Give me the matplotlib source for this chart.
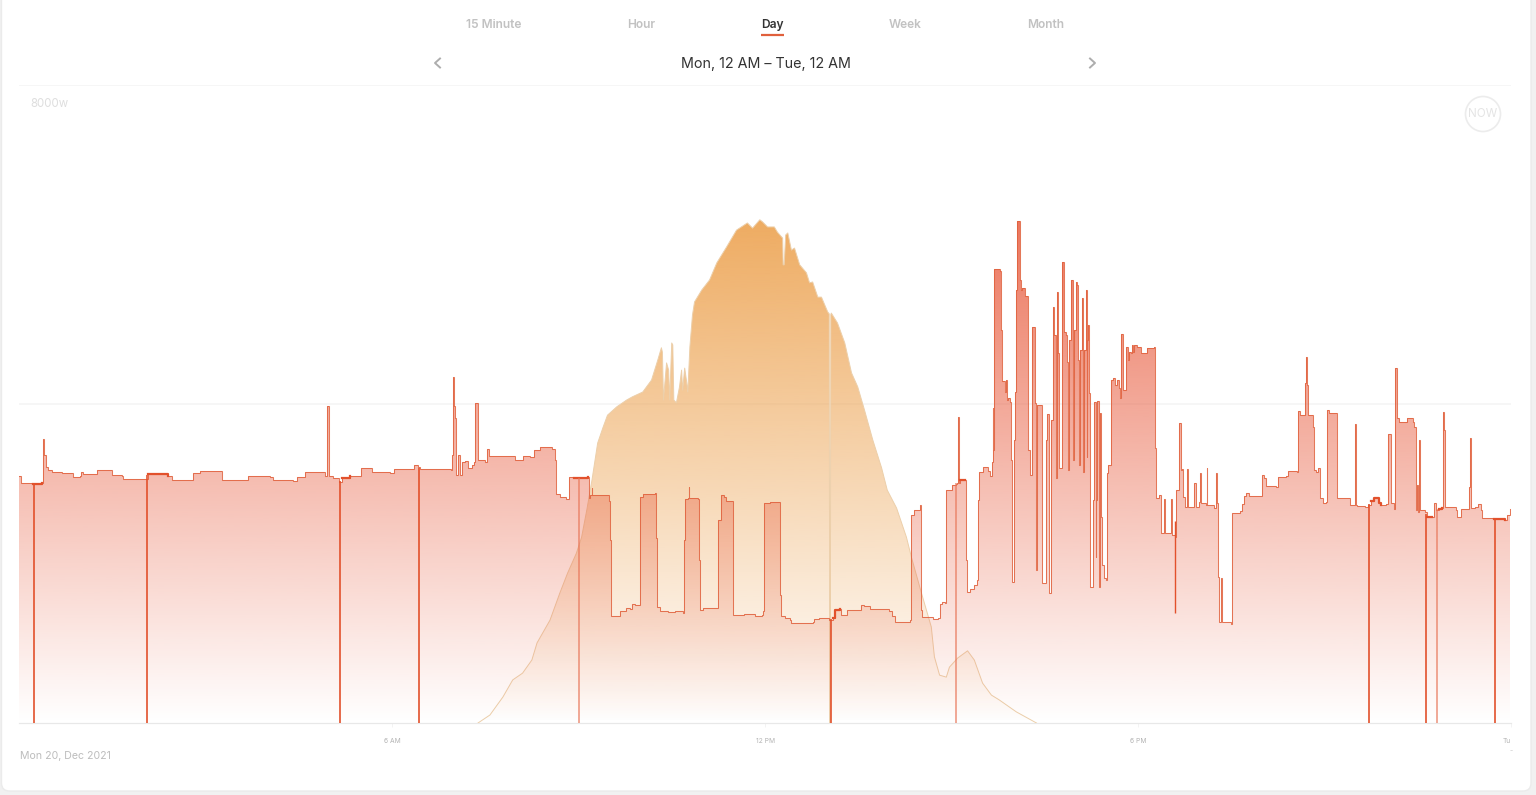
import numpy as np
import matplotlib
matplotlib.use("Agg")
import matplotlib.pyplot as plt
from matplotlib.patches import Polygon, FancyBboxPatch, Circle

plt.rcParams['font.family'] = ['Inter', 'DejaVu Sans']

PERIODS = ["15 Minute", "Hour", "Day", "Week", "Month"]
RANGE_LABEL = "Mon, 12 AM – Tue, 12 AM"
DATE_LABEL = "Mon 20, Dec 2021"
Y_TICKS = [4000, 8000]
X_TICKS = [360, 720, 1080, 1440]
X_LABELS = ["6 AM", "12 PM", "6 PM", "Tu"]

USAGE_MIN = [
    0, 2, 13.5, 22, 23, 24, 26, 28, 32, 41.5,
    51, 52, 59, 60, 62, 72, 75, 88, 90, 99,
    100, 122.5, 124.5, 144, 147.5, 165, 168, 174.5, 192, 196,
    218, 221, 242, 245, 264, 268, 276, 290, 295, 296,
    297, 298, 299, 303, 308.5, 311.5, 319, 327, 330, 337,
    340.5, 358, 362, 375, 381, 385, 387, 417, 418, 419,
    419.5, 420.5, 421.5, 423.5, 425.5, 428, 430, 433, 437, 439,
    440, 442, 443, 449.5, 451.5, 453.5, 475.5, 478.5, 484, 486,
    493, 497, 502.5, 514, 517, 518, 522, 527.5, 530.5, 531,
    536, 541, 549, 550, 551, 553, 553.5, 564, 569, 570,
    571, 575, 580, 585.5, 589.5, 591.5, 595, 599, 599.5, 602,
    613.5, 614.5, 615.5, 618.5, 626, 633, 640.5, 641.5, 642.5, 645.5,
    646.5, 647, 655, 656, 657, 660, 673.5, 674.5, 675, 678,
    680, 682, 688, 689, 692.5, 700, 710, 717, 718.5, 719.5,
    724.5, 733, 734, 735, 739, 744, 745, 758, 766, 767,
    772.5, 777.5, 782, 786, 788, 792, 793, 798, 799, 808,
    813, 816, 821, 840, 843, 845, 857.5, 859.5, 860.5, 863.5,
    870, 870.5, 871, 872, 882.5, 886.5, 888.5, 891, 894, 894.5,
    895, 900, 904, 905, 906, 906.5, 907, 908, 913.5, 914,
    914.5, 917.5, 922, 925, 926, 926.5, 930, 935, 937.5, 939.5,
    940, 940.5, 941.5, 947, 947.5, 949, 951, 952, 953, 954,
    955, 956, 957, 958, 959, 960, 961, 962, 962.5, 963.5,
    965.5, 966.5, 967.5, 968.5, 971, 973.5, 974, 976, 977, 978,
    980, 980.5, 981, 982, 983, 986, 987, 990.5, 991.5, 992.5,
    993.5, 994.5, 995.5, 996, 997.5, 998.5, 1000.5, 1001, 1001.5, 1002.5,
    1003, 1004, 1006, 1006.5, 1007, 1008, 1009, 1010.5, 1011, 1012,
    1012.5, 1013, 1015, 1016, 1017, 1017.5, 1018, 1020, 1021.5, 1022.5,
    1023.5, 1024.5, 1025.5, 1026.5, 1027.5, 1029.5, 1030, 1030.5, 1031, 1032,
    1033, 1034, 1036, 1037, 1037.5, 1038.5, 1039, 1039.5, 1040.5, 1041.5,
    1042.5, 1043, 1043.5, 1044.5, 1045.5, 1047.5, 1049.5, 1050, 1051.5, 1053.5,
    1055.5, 1057.5, 1059.5, 1062, 1063, 1064, 1065, 1066, 1068, 1070,
    1071, 1073, 1074, 1075.5, 1076.5, 1079.5, 1083, 1086, 1089, 1095,
    1096, 1097.5, 1100.5, 1102.5, 1104.5, 1105.5, 1106.5, 1111, 1112, 1113,
    1115.5, 1117, 1120, 1121, 1121.5, 1122, 1123, 1125.5, 1127.5, 1128.5,
    1133.5, 1134.5, 1135.5, 1139, 1140, 1141, 1146, 1146.5, 1147, 1153.5,
    1155.5, 1156.5, 1157.5, 1158.5, 1159.5, 1160.5, 1161.5, 1168, 1170, 1170.5,
    1171, 1178, 1180, 1182.5, 1184.5, 1187.5, 1199, 1200, 1202, 1204,
    1213.5, 1215.5, 1223, 1225, 1233.5, 1234.5, 1236.5, 1240.5, 1241.5, 1242.5,
    1243.5, 1244, 1247, 1249, 1250, 1252, 1254, 1256, 1259, 1261,
    1262, 1264.5, 1271.5, 1272.5, 1282, 1285, 1288, 1289, 1290, 1291.5,
    1299.5, 1302, 1305, 1308, 1313, 1315, 1319.5, 1321.5, 1322.5, 1324.5,
    1327.5, 1328.5, 1329.5, 1330, 1332, 1340, 1345, 1346.5, 1348.5, 1349.5,
    1350.5, 1351.5, 1352.5, 1357, 1359, 1364, 1366, 1367.5, 1370.5, 1373.5,
    1374.5, 1375.5, 1376.5, 1387, 1388, 1391, 1392, 1398, 1399, 1400,
    1401, 1405, 1408.5, 1411, 1412, 1424, 1434, 1436.5, 1439,
]
USAGE_W = [
    3100, 3010, 3000, 3010, 3560, 3360, 3210, 3170, 3150, 3135,
    3135, 3085, 3100, 3150, 3120, 3120, 3170, 3170, 3110, 3100,
    3060, 3060, 3120, 3100, 3050, 3050, 3135, 3160, 3160, 3050,
    3050, 3100, 3085, 3050, 3035, 3085, 3150, 3150, 3100, 3100,
    3975, 3975, 3100, 3070, 3020, 3070, 3100, 3100, 3200, 3200,
    3150, 3135, 3185, 3185, 3235, 3210, 3185, 3170, 3360, 4340,
    3975, 3825, 3110, 3360, 3110, 3275, 3285, 3200, 3235, 3275,
    4015, 4015, 3300, 3275, 3435, 3350, 3350, 3300, 3300, 3350,
    3335, 3425, 3460, 3435, 3300, 2870, 2835, 2810, 2820, 3085,
    3070, 3070, 3085, 2820, 2860, 2945, 2860, 2860, 2785, 2295,
    1340, 1340, 1405, 1440, 1430, 1490, 1480, 1490, 2835, 2870,
    2885, 2320, 1455, 1405, 1390, 1405, 1380, 2295, 2810, 2820,
    2960, 2820, 2810, 2045, 1415, 1440, 1440, 1605, 2545, 2860,
    2835, 2785, 2785, 1355, 1355, 1365, 1340, 1355, 1405, 2760,
    2770, 2770, 1605, 1340, 1315, 1290, 1255, 1255, 1265, 1305,
    1315, 1315, 1290, 1315, 1415, 1430, 1355, 1355, 1415, 1415,
    1480, 1465, 1430, 1405, 1340, 1265, 1265, 1290, 2610, 2670,
    2735, 2045, 1415, 1330, 1305, 1315, 1490, 1515, 1505, 2230,
    2920, 2985, 3000, 3010, 3010, 3835, 3010, 3045, 3045, 2045,
    1645, 1680, 1730, 1795, 2795, 3150, 3210, 3160, 3095, 3275,
    3950, 3425, 5695, 5670, 4930, 4290, 4290, 4150, 4300, 4050,
    4075, 4025, 3300, 1770, 1770, 3550, 4150, 5430, 5430, 6295,
    6295, 5555, 5430, 5455, 5355, 5355, 3425, 3110, 3110, 4965,
    4965, 4015, 4015, 1920, 3990, 3990, 1755, 1755, 3550, 3875,
    3875, 1630, 1630, 3800, 5215, 4865, 4865, 3070, 5405, 5405,
    4640, 3200, 3200, 3800, 5780, 5780, 4905, 4865, 4525, 4525,
    3175, 4805, 5555, 5555, 5030, 3300, 4930, 5530, 5495, 4550,
    3235, 4675, 5330, 3150, 4675, 4675, 5430, 3335, 4805, 4990,
    4140, 1705, 1705, 2795, 4025, 4025, 2080, 2795, 4040, 4040,
    1705, 3885, 3885, 2585, 1980, 1820, 1795, 3135, 3235, 4300,
    4325, 4240, 4300, 4200, 4075, 4880, 4880, 4175, 4715, 4550,
    4650, 4640, 4740, 4650, 4740, 4715, 4640, 4640, 4705, 4715,
    3450, 2820, 2860, 2385, 2385, 2810, 2385, 2385, 2810, 2360,
    2330, 2920, 3760, 3760, 3175, 3185, 2835, 2710, 3185, 2710,
    2710, 3010, 2710, 2770, 3135, 2760, 2735, 3200, 2735, 2695,
    3135, 2760, 1830, 1265, 1265, 1820, 1265, 1265, 1240, 2330,
    2635, 2660, 2745, 2845, 2885, 2845, 2845, 3110, 3070, 2970,
    2960, 3085, 3095, 3160, 3150, 3910, 3860, 3860, 4265, 4590,
    4240, 3860, 3860, 3710, 3175, 3150, 3200, 2820, 2760, 2770,
    3925, 3885, 3885, 2820, 2820, 2735, 2735, 3750, 2735, 2720,
    2710, 2735, 2785, 2820, 2760, 2735, 2745, 3625, 3625, 2760,
    2685, 4450, 4450, 3825, 3775, 3825, 3775, 3710, 2670, 2985,
    2645, 3550, 2670, 2645, 2585, 2585, 2760, 2670, 2685, 2695,
    3900, 3675, 2710, 2670, 2585, 2585, 2685, 2685, 2960, 3575,
    2695, 2710, 2745, 2670, 2570, 2560, 2545, 2610, 2685,
]

SOLAR_MIN = [
    443, 454.5, 467, 476.5, 486, 495, 500, 512.5, 522, 529.5,
    538, 543, 548, 553, 558.5, 563.5, 568, 577, 586.5, 592,
    602, 610.5, 616.5, 620, 621, 622, 625, 627, 628, 630,
    631, 632, 634.5, 637.5, 639.5, 640.5, 642.5, 644.5, 645.5, 647.5,
    650, 652, 659, 666.5, 673.5, 683, 692.5, 703, 708, 715,
    717.5, 722.5, 729, 732, 737, 737.5, 738.5, 740, 742, 745.5,
    748.5, 753.5, 760, 763, 766, 771, 774.5, 780.5, 782, 782.5,
    783, 783.5, 784, 790, 797, 803.5, 809.5, 816, 824, 832.5,
    838, 847, 856.5, 861.5, 871, 880.5, 883.5, 888.5, 895, 898,
    906, 915.5, 922, 930, 938.5, 946, 962.5, 982,
]
SOLAR_W = [
    0, 100, 325, 540, 625, 790, 1005, 1290, 1630, 1880,
    2130, 2330, 2670, 3045, 3510, 3700, 3860, 3965, 4050, 4090,
    4150, 4300, 4550, 4705, 4650, 4050, 4515, 4425, 4050, 4765,
    4740, 4050, 4015, 4215, 4425, 4175, 4450, 4265, 4150, 4715,
    5115, 5280, 5430, 5555, 5770, 5970, 6180, 6270, 6205, 6310,
    6285, 6220, 6220, 6155, 6080, 5745, 5745, 6120, 6145, 5930,
    5955, 5745, 5645, 5520, 5530, 5340, 5340, 5155, 5130, 0,
    0, 5120, 5140, 5015, 4765, 4390, 4215, 3925, 3550, 3200,
    2920, 2695, 2330, 2070, 1630, 1205, 830, 600, 575, 700,
    815, 905, 790, 500, 350, 290, 140, 0,
]

DROPOUT_STRONG = [14, 124, 309.5, 386, 783.5, 1303, 1358, 1424.5]
DROPOUT_PALE = [540, 904.5, 1369]
PARTIAL_DROP_MIN = [1116]
PARTIAL_DROP_W = [1380]
NOISY_SPANS = [(13.5, 22), (124, 144), (311, 319), (387, 394), (536, 549),
               (786, 792), (905.9, 906), (908, 913.5), (1303, 1316), (1359, 1364),
               (1370, 1374), (1424, 1434)]

W, H = 1536, 795
fig = plt.figure(figsize=(W / 100, H / 100), dpi=100, facecolor="#f1f1f1")

ui = fig.add_axes([0, 0, 1, 1], zorder=0)
ui.set_xlim(0, W)
ui.set_ylim(H, 0)
ui.axis("off")
ui.add_patch(FancyBboxPatch((1.5, -20), 1529.5, 811, boxstyle="round,pad=0,rounding_size=8",
                            fc="white", ec="#ebebeb", lw=1))

period_x = [494, 641, 772, 905, 1046]
for label, px in zip(PERIODS, period_x):
    active = label == "Day"
    ui.text(px, 25, label, ha="center", va="center", fontsize=8.6, fontweight="semibold",
            color="#333333" if active else "#c2c2c2")
ui.plot([761, 784], [35, 35], color="#e0603c", lw=1.6, solid_capstyle="butt")
ui.text(766, 64, RANGE_LABEL, ha="center", va="center", fontsize=10.3, color="#333333")
ui.plot([440, 435, 440], [58.5, 63, 67.5], color="#adadad", lw=1.4)
ui.plot([1090, 1095, 1090], [58.5, 63, 67.5], color="#adadad", lw=1.4)
ui.text(19.5, 756, DATE_LABEL, ha="left", va="center", fontsize=7.6, color="#bdbdbd")
ui.add_patch(Circle((1483, 114), 17.5, fc="none", ec="#ececec", lw=1.2))
ui.text(1483, 114, "NOW", ha="center", va="center", fontsize=8.4, color="#e4e4e4")
ui.text(1511, 751, "-", ha="center", va="center", fontsize=5, color="#c8c8c8")

left, right, bottom, top = 19, 1511, 723, 85
ax = fig.add_axes([left / W, 1 - bottom / H, (right - left) / W, (bottom - top) / H], zorder=1)
ax.patch.set_alpha(0)

usage_t = np.array(USAGE_MIN, dtype=float)
usage_v = np.array(USAGE_W, dtype=float)
solar_t = np.array(SOLAR_MIN, dtype=float)
solar_v = np.array(SOLAR_W, dtype=float)


def stepped(t, v):
    st = np.repeat(t, 2)[1:]
    sv = np.repeat(v, 2)[:-1]
    return st, sv


def gradient_fill(t, v, rgb, full_value, z):
    img = np.zeros((512, 1, 4))
    img[..., 0], img[..., 1], img[..., 2] = [c / 255 for c in rgb]
    img[:, 0, 3] = np.linspace(1, 0, 512)
    im = ax.imshow(img, extent=[0, 1440, 0, full_value], aspect="auto", origin="upper",
                   zorder=z, interpolation="bilinear")
    verts = np.column_stack([np.r_[t[0], t, t[-1]], np.r_[0, v, 0]])
    poly = Polygon(verts, closed=True, transform=ax.transData, fc="none", ec="none")
    ax.add_patch(poly)
    im.set_clip_path(poly)


gradient_fill(solar_t, solar_v, (237, 165, 85), 6800, 2)
ax.plot(solar_t, solar_v, color="#eccfaa", lw=0.7, zorder=3)
ust, usv = stepped(usage_t, usage_v)
gradient_fill(ust, usv, (232, 90, 60), 7600, 4)
ax.plot(ust, usv, color="#e0603c", lw=0.75, alpha=0.85, zorder=5, solid_joinstyle="miter")

for start, end in NOISY_SPANS:
    mask = (usage_t >= start) & (usage_t <= end)
    nt, nv = stepped(usage_t[mask], usage_v[mask])
    ax.plot(nt, nv, color="#e2512c", lw=1.6, zorder=6)

ax.vlines(DROPOUT_STRONG, 0, np.interp(DROPOUT_STRONG, usage_t, usage_v),
          color="#e2512c", lw=1.2, zorder=6)
ax.vlines(DROPOUT_PALE, 0, np.interp(DROPOUT_PALE, usage_t, usage_v),
          color="#e8775a", lw=1.1, alpha=0.8, zorder=6)
ax.vlines(PARTIAL_DROP_MIN, PARTIAL_DROP_W, np.interp(PARTIAL_DROP_MIN, usage_t, usage_v),
          color="#e2512c", lw=1.0, zorder=6)

ax.set_xlim(0, 1440)
ax.set_ylim(0, 8000)
ax.set_yticks(Y_TICKS)
ax.set_yticklabels([])
ax.set_xticks(X_TICKS)
ax.set_xticklabels(X_LABELS, fontsize=4.8, color="#b3b3b3")
ax.xaxis.get_ticklabels()[-1].set_ha("right")
ax.tick_params(axis="x", length=3, width=0.5, color="#efefef", pad=8)
ax.tick_params(axis="y", length=0)
ax.grid(axis="y", color="#f5f5f5", lw=1.2, zorder=1)
ax.set_axisbelow(True)
for side in ["top", "left", "right"]:
    ax.spines[side].set_visible(False)
ax.spines["bottom"].set_color("#e8e8e8")
ax.spines["bottom"].set_linewidth(0.9)
ax.text(11, 7760, "8000w", ha="left", va="center", fontsize=8.3, color="#dedede")

fig.savefig("out.png", dpi=100, facecolor=fig.get_facecolor())
